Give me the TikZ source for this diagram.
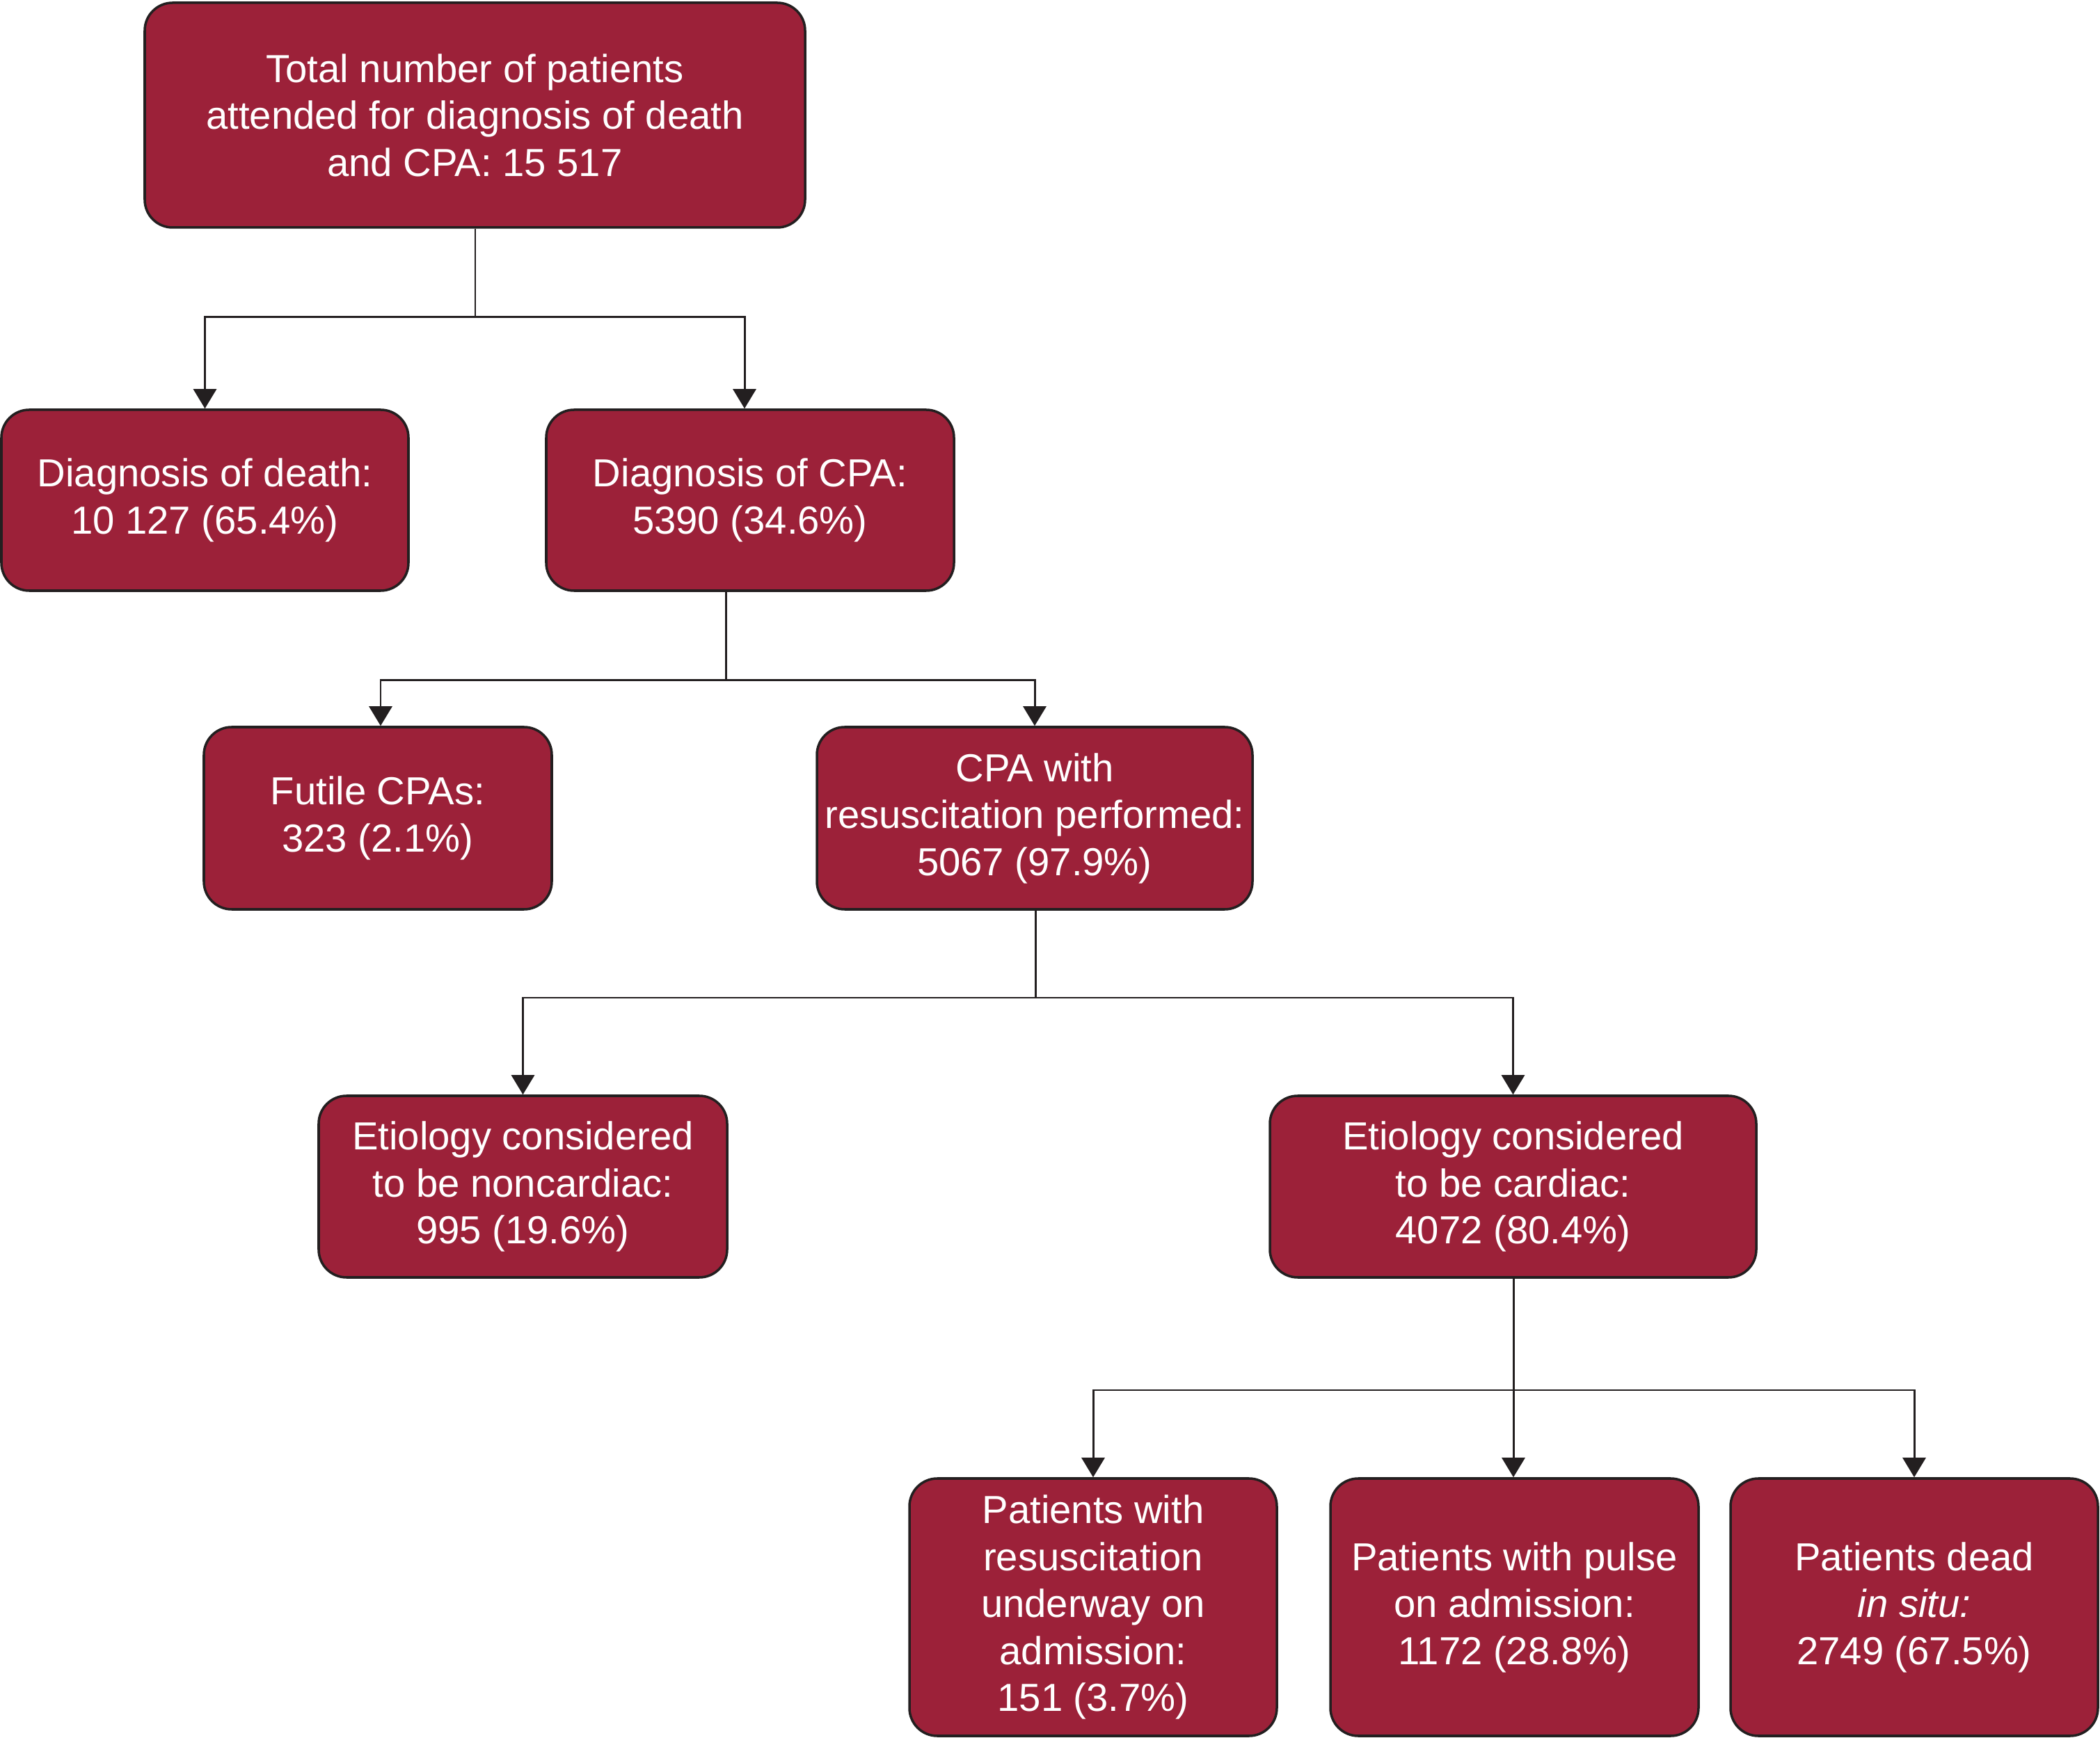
\documentclass[tikz,border=0pt]{standalone}
\usepackage{fontspec}
\setmainfont{Liberation Sans}
\usetikzlibrary{arrows.meta}
\definecolor{boxred}{RGB}{156,33,57}
\definecolor{edge}{RGB}{35,31,32}
\tikzset{
  box/.style={draw=edge, line width=1.0pt, fill=boxred, rounded corners=0.4cm,
    text=white, align=center, inner sep=0pt,
    font=\fontsize{16}{19.2}\selectfont},
  conn/.style={draw=edge, line width=0.85pt},
  arr/.style={conn, -{Triangle[length=0.28cm,width=0.33cm]}}
}
\begin{document}
\begin{tikzpicture}
\path[use as bounding box] (0,0) rectangle (30.18,-24.98);
\node[box, minimum width=9.49cm, minimum height=3.23cm] (b1) at (6.825,-1.655)
  {Total number of patients\\attended for diagnosis of death\\and CPA: 15 517};
\node[box, minimum width=5.85cm, minimum height=2.60cm] (b2) at (2.945,-7.19)
  {Diagnosis of death:\\10 127 (65.4\%)};
\node[box, minimum width=5.86cm, minimum height=2.60cm] (b3) at (10.78,-7.19)
  {Diagnosis of CPA:\\5390 (34.6\%)};
\node[box, minimum width=5.00cm, minimum height=2.62cm] (b4) at (5.43,-11.76)
  {Futile CPAs:\\323 (2.1\%)};
\node[box, minimum width=6.26cm, minimum height=2.62cm] (b5) at (14.87,-11.76)
  {CPA with\\resuscitation performed:\\5067 (97.9\%)};
\node[box, minimum width=5.87cm, minimum height=2.61cm] (b6) at (7.515,-17.055)
  {Etiology considered\\to be noncardiac:\\995 (19.6\%)};
\node[box, minimum width=6.99cm, minimum height=2.61cm] (b7) at (21.745,-17.055)
  {Etiology considered\\to be cardiac:\\4072 (80.4\%)};
\node[box, minimum width=5.28cm, minimum height=3.70cm] (b8) at (15.71,-23.10)
  {Patients with\\resuscitation\\underway on\\admission:\\151 (3.7\%)};
\node[box, minimum width=5.29cm, minimum height=3.70cm] (b9) at (21.765,-23.10)
  {Patients with pulse\\on admission:\\1172 (28.8\%)};
\node[box, minimum width=5.28cm, minimum height=3.70cm] (b10) at (27.51,-23.10)
  {Patients dead\\\textit{in situ:}\\2749 (67.5\%)};

\coordinate (j1) at (6.83,-4.56);
\coordinate (j2) at (10.43,-9.78);
\coordinate (j3) at (14.88,-14.34);
\coordinate (j4) at (21.75,-19.98);

\draw[conn] (b1.south -| j1) -- (j1);
\draw[arr] (j1) -| (b2.north);
\draw[arr] (j1) -| ([xshift=-0.08cm]b3.north);

\draw[conn] (b3.south -| j2) -- (j2);
\draw[arr] (j2) -| ([xshift=0.04cm]b4.north);
\draw[arr] (j2) -| (b5.north);

\draw[conn] (b5.south -| j3) -- (j3);
\draw[arr] (j3) -| (b6.north);
\draw[arr] (j3) -| (b7.north);

\draw[conn] (b7.south -| j4) -- (j4);
\draw[arr] (j4) -| (b8.north);
\draw[arr] (j4) -- (j4 |- b9.north);
\draw[arr] (j4) -| (b10.north);
\end{tikzpicture}
\end{document}
